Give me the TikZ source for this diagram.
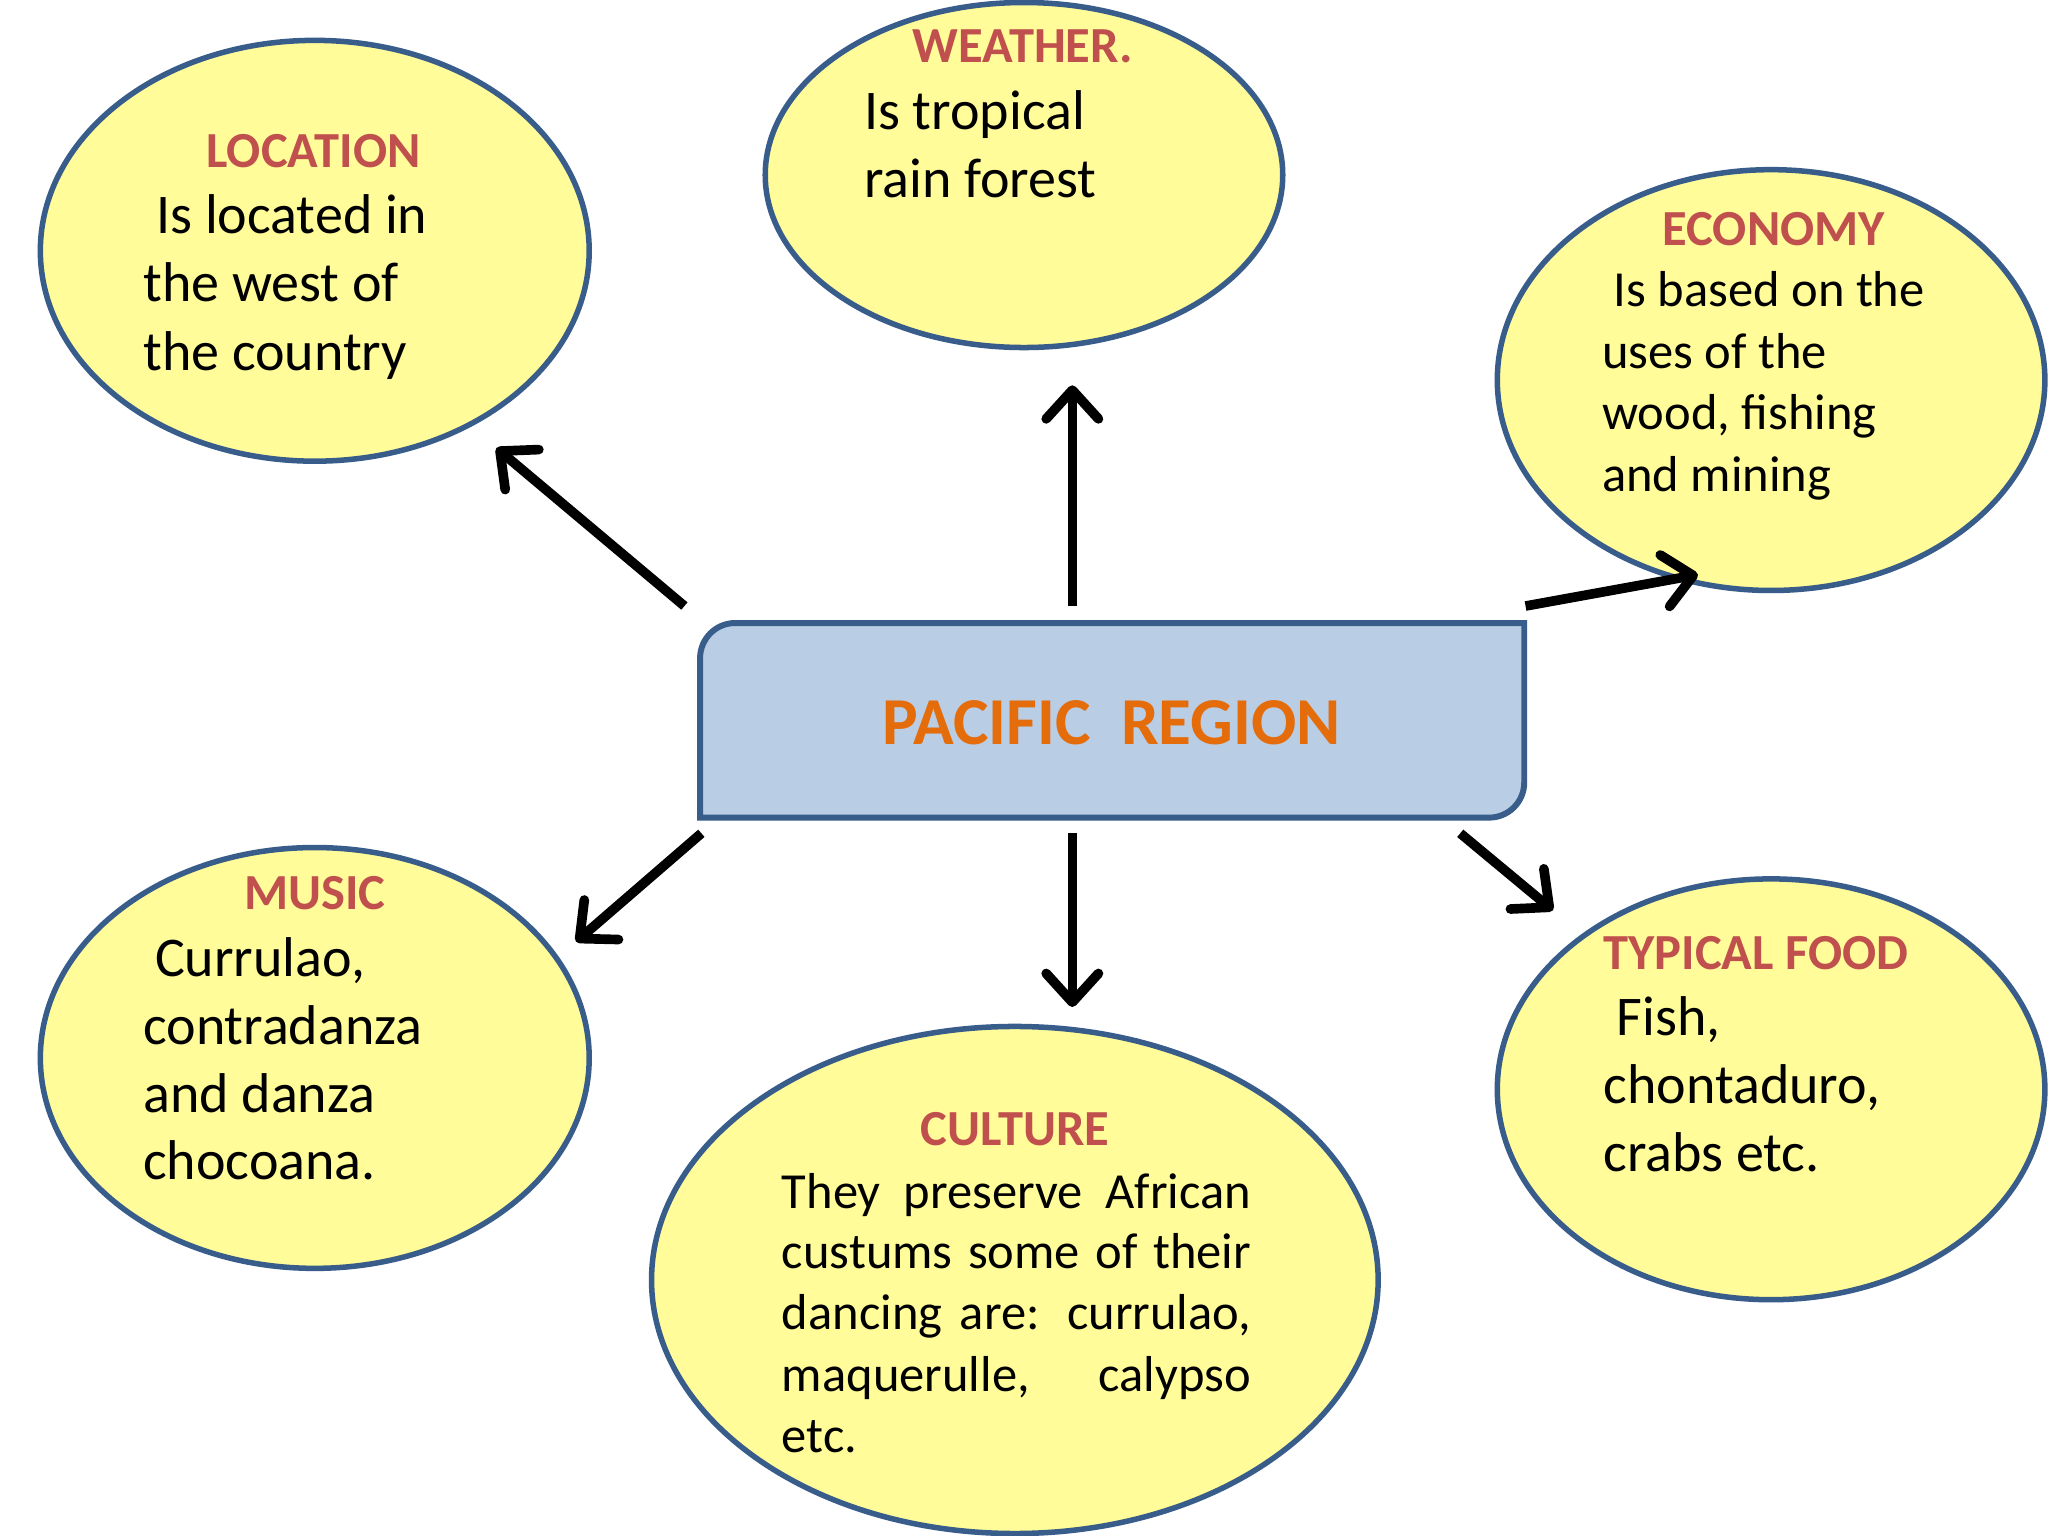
\documentclass[tikz,border=0pt]{standalone}
\usepackage{fontspec}
\setmainfont{Carlito}
\usetikzlibrary{shapes.geometric,arrows.meta}
\definecolor{bubblefill}{HTML}{FFFC99}
\definecolor{bubbleline}{HTML}{385D8A}
\definecolor{boxfill}{HTML}{B9CDE5}
\definecolor{titlered}{HTML}{C0504D}
\definecolor{regionorange}{HTML}{E46C0A}
\tikzset{
  bubble/.style={ellipse, draw=bubbleline, fill=bubblefill, line width=1.2pt, inner sep=0pt},
  ttl/.style={inner sep=0pt, anchor=base, text=titlered, font=\fontsize{11}{13}\selectfont\bfseries},
  ttlw/.style={ttl, anchor=base west},
  bodyL/.style={inner sep=0pt, anchor=base west, font=\fontsize{12.2}{14.8}\selectfont},
  bodyS/.style={inner sep=0pt, anchor=base west, font=\fontsize{11}{13.4}\selectfont},
  conn/.style={line width=2.1pt, -{Straight Barb[length=2.2mm,width=4mm,round]}},
}
\begin{document}
\begin{tikzpicture}[x=0.01cm,y=-0.01cm]
\useasboundingbox[fill=white] (0,0) rectangle (1568,1176);

% bubbles
\node[bubble, minimum width=4.2cm, minimum height=3.22cm] (loc) at (241,192) {};
\node[bubble, minimum width=3.96cm, minimum height=2.64cm] (wea) at (784,134) {};
\node[bubble, minimum width=4.19cm, minimum height=3.22cm] (eco) at (1356,291) {};
\node[bubble, minimum width=4.2cm, minimum height=3.22cm] (mus) at (241,810) {};
\node[bubble, minimum width=5.56cm, minimum height=3.88cm] (cul) at (777,980) {};
\node[bubble, minimum width=4.19cm, minimum height=3.22cm] (food) at (1356,834) {};

% central box
\draw[draw=bubbleline, fill=boxfill, line width=1.3pt]
  (536,626) -- (536,504) .. controls (536,489) and (548,477) .. (563,477) -- (1167,477)
  -- (1167,599) .. controls (1167,614) and (1155,626) .. (1140,626) -- cycle;
\node[inner sep=0pt, text=regionorange, font=\fontsize{14.6}{17}\selectfont\bfseries] (region) at (851,553) {PACIFIC\ \ REGION};

% texts
\node[ttl] (locT) at (240,128) {LOCATION};
\node[bodyL] (loc1) at (119,179) {Is located in};
\node[bodyL] (loc2) at (109,231) {the west of};
\node[bodyL] (loc3) at (109,284) {the country};

\node[ttl] (weaT) at (783,48) {WEATHER.};
\node[bodyL] (wea1) at (661,99) {Is tropical};
\node[bodyL] (wea2) at (661,151) {rain forest};

\node[ttl] (ecoT) at (1358,188) {ECONOMY};
\node[bodyS] (eco1) at (1235,235) {Is based on the};
\node[bodyS] (eco2) at (1226,282) {uses of the};
\node[bodyS] (eco3) at (1226,329) {wood, fishing};
\node[bodyS] (eco4) at (1226,376) {and mining};

\node[ttl] (musT) at (241,696) {MUSIC};
\node[bodyL] (mus1) at (118,748) {Currulao,};
\node[bodyL] (mus2) at (109,800) {contradanza};
\node[bodyL] (mus3) at (109,852) {and danza};
\node[bodyL] (mus4) at (109,903) {chocoana.};

\node[ttlw] (foodT) at (1227,742) {TYPICAL FOOD};
\node[bodyL] (food1) at (1237,793) {Fish,};
\node[bodyL] (food2) at (1227,845) {chontaduro,};
\node[bodyL] (food3) at (1227,897) {crabs etc.};

\node[ttl] (culT) at (777,877) {CULTURE};
\node[bodyS] (cul1) at (598,925) {\makebox[3.59cm][s]{They preserve African}};
\node[bodyS] (cul2) at (598,971) {\makebox[3.59cm][s]{custums some of their}};
\node[bodyS] (cul3) at (598,1018) {\makebox[3.59cm][s]{dancing are: currulao,}};
\node[bodyS] (cul4) at (598,1065) {\makebox[3.59cm][s]{maquerulle, calypso}};
\node[bodyS] (cul5) at (598,1112) {etc.};

% connectors
\coordinate (aLocS) at (524,464); \coordinate (aLocE) at (380,343);
\coordinate (aWeaS) at (821,464); \coordinate (aWeaE) at (821,295);
\coordinate (aEcoS) at (1168,464); \coordinate (aEcoE) at (1300,440);
\coordinate (aMusS) at (537,638); \coordinate (aMusE) at (441,721);
\coordinate (aCulS) at (821,638); \coordinate (aCulE) at (821,771);
\coordinate (aFoodS) at (1118,638); \coordinate (aFoodE) at (1189,697);
\draw[conn] (aLocS) -- (aLocE);
\draw[conn] (aWeaS) -- (aWeaE);
\draw[conn] (aEcoS) -- (aEcoE);
\draw[conn] (aMusS) -- (aMusE);
\draw[conn] (aCulS) -- (aCulE);
\draw[conn] (aFoodS) -- (aFoodE);
\end{tikzpicture}
\end{document}
